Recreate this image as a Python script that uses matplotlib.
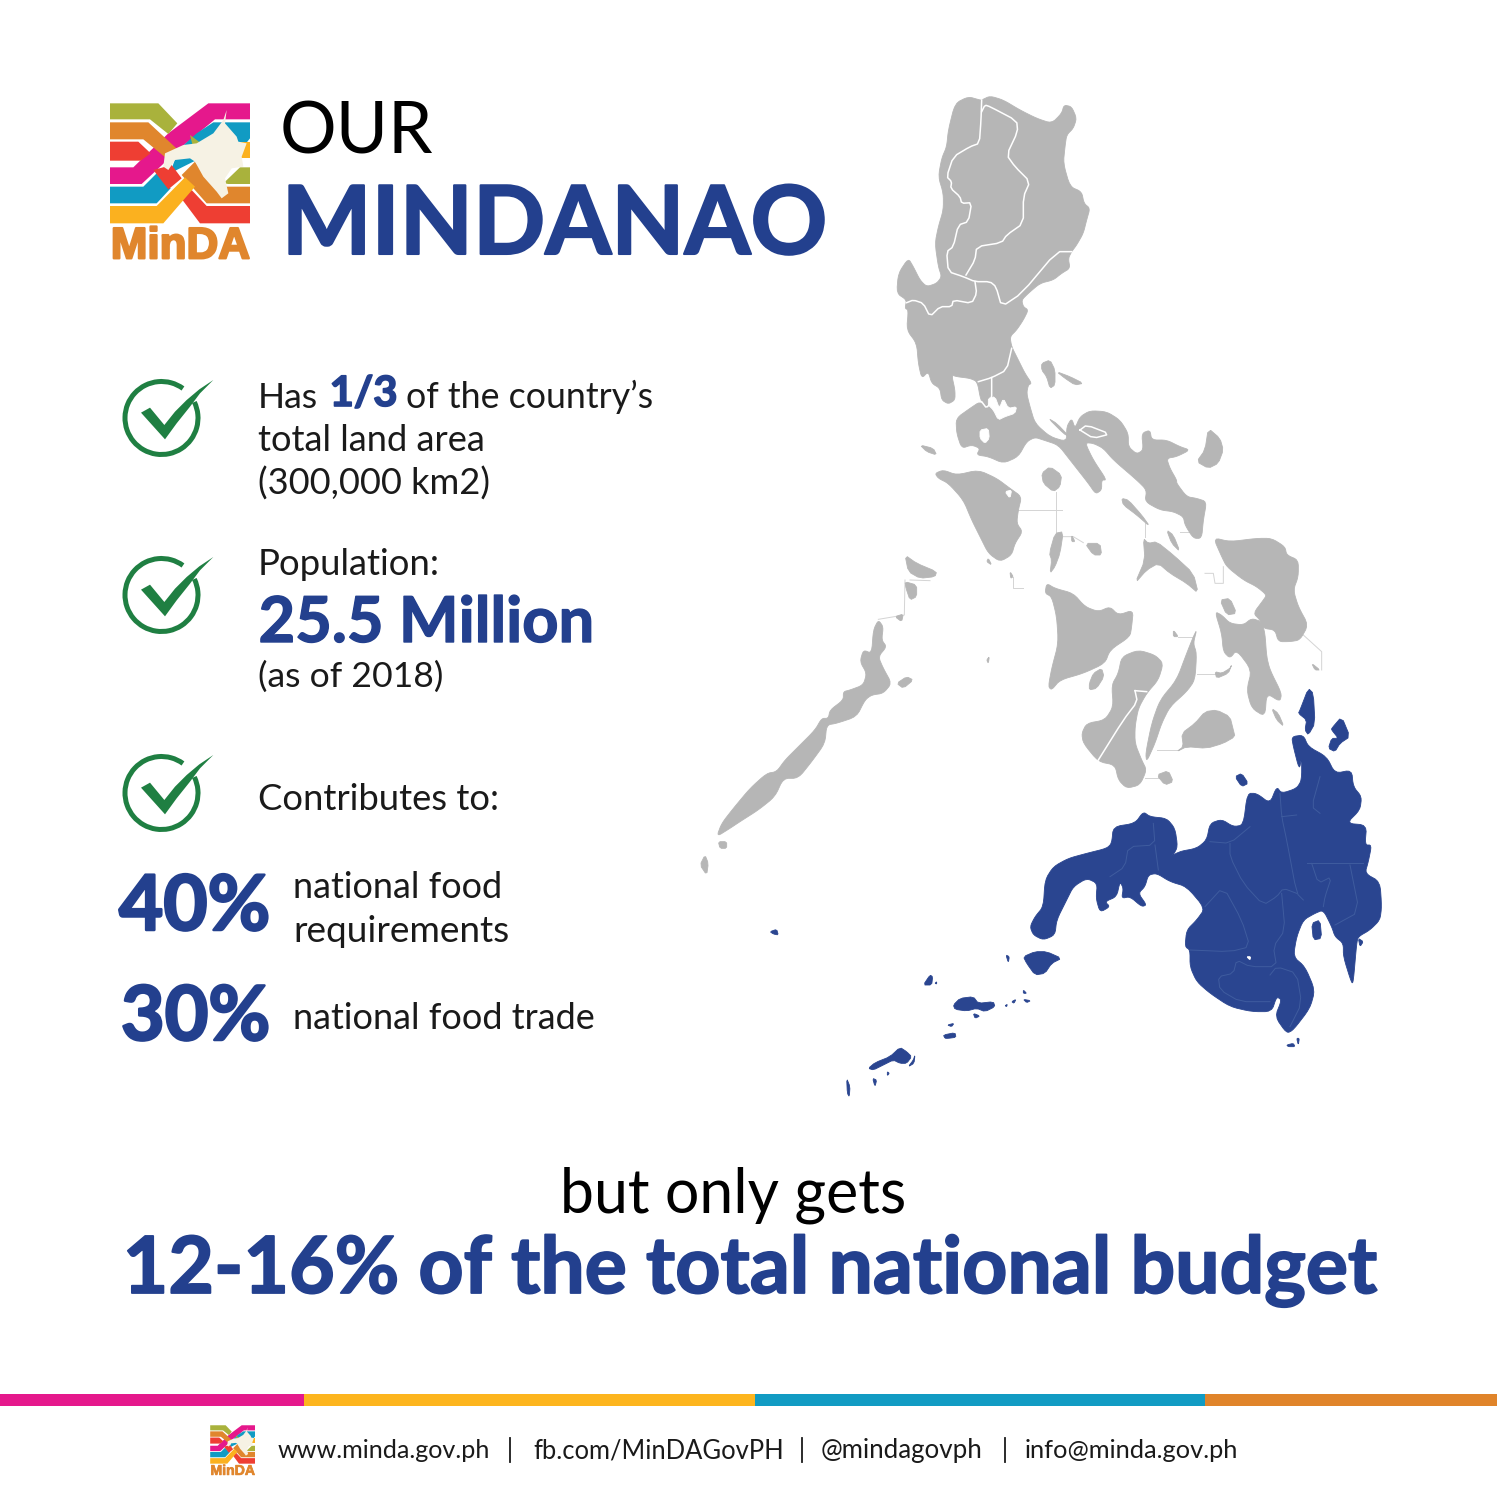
import matplotlib
matplotlib.use("Agg")
import matplotlib.pyplot as plt
import matplotlib.patheffects as pe
from matplotlib.patches import Polygon, Arc

W = 1497
NAVY = "#23408e"; MAP_BLUE = "#2a4590"; GREY = "#b6b6b6"; GREEN = "#1f7f42"; ORANGE = "#e0862d"
FONT = "Lato"
BAR_SEGMENTS = [(0, 304, "#e5188c"), (304, 755, "#fdb51e"), (755, 1205, "#119bc3"), (1205, 1497, "#e0842a")]

# (text, left x, right x, baseline y, weight, colour, extra stroke)
TEXTS = [
    ("OUR", 280, 433, 153, "normal", "black", 0),
    ("MINDANAO", 281, 828, 254, "bold", NAVY, 1.5),
    ("Has", 258, 318, 408, "normal", "#1a1a1a", 0),
    ("1/3", 329, 398, 406, "bold", NAVY, 1.2),
    ("of the country’s", 406, 653, 408, "normal", "#1a1a1a", 0),
    ("total land area", 258, 485, 451, "normal", "#1a1a1a", 0),
    ("(300,000 km2)", 258, 490, 495, "normal", "#1a1a1a", 0),
    ("Population:", 258, 440, 575, "normal", "#1a1a1a", 0),
    ("25.5 Million", 258, 594, 642, "bold", NAVY, 1.0),
    ("(as of 2018)", 258, 443, 687, "normal", "#1a1a1a", 0),
    ("Contributes to:", 258, 499, 810, "normal", "#1a1a1a", 0),
    ("40%", 118, 271, 930, "bold", NAVY, 1.8),
    ("national food", 293, 502, 898, "normal", "#1a1a1a", 0),
    ("requirements", 293, 509, 942, "normal", "#1a1a1a", 0),
    ("30%", 120, 271, 1040, "bold", NAVY, 1.8),
    ("national food trade", 293, 595, 1029, "normal", "#1a1a1a", 0),
    ("but only gets", 560, 906, 1213, "normal", "black", 0),
    ("12-16% of the total national budget", 122, 1376, 1293, "bold", NAVY, 1.3),
    ("www.minda.gov.ph", 278, 490, 1458, "normal", "#1a1a1a", 0),
    ("fb.com/MinDAGovPH", 533, 783, 1458, "normal", "#1a1a1a", 0),
    ("@mindagovph", 821, 982, 1458, "normal", "#1a1a1a", 0),
    ("info@minda.gov.ph", 1025, 1239, 1458, "normal", "#1a1a1a", 0),
]
SEPARATORS = [510, 802, 1005]
CHECK_CENTRES = [418, 595, 793]
TICK_SHAPE = [(93,128),(120,113),(163,165),(195,125),(230,90),(268,58),(310,30),(270,70),(240,110),(200,160),(165,208)]

def c2(p): return [(880 + x / 3, 80 + y / 3) for x, y in p]
def c3(p): return [(690 + x / 3, 460 + y / 3) for x, y in p]
def c4(p): return [(1030 + x / 3, 460 + y / 3) for x, y in p]
def c5(p): return [(1010 + x / 3, 680 + y / 3) for x, y in p]
def c6(p): return [(760 + x / 3, 910 + y / 3) for x, y in p]

LUZON = c2([(305,60),(330,48),(370,60),(420,90),(470,115),(515,130),(545,100),(552,75),(575,80),(590,115),(580,145),(560,165),(555,200),(550,250),(570,320),(605,335),(612,370),(630,385),(620,420),(610,460),(590,495),(575,515),(565,535),(570,565),(545,580),(520,600),(480,610),(445,640),(425,660),(430,680),(445,690),(430,720),(410,750),(390,770),(395,800),(415,840),(435,880),(455,910),(445,915),(440,940),(450,980),(465,1030),(510,1070),(560,1085),(560,1040),(575,1015),(585,1045),(600,1010),(630,992),(680,995),(720,1020),(745,1060),(745,1100),(770,1122),(790,1110),(785,1060),(810,1050),(815,1080),(860,1080),(900,1100),(930,1110),(890,1130),(860,1135),(870,1165),(890,1200)]) \
    + c4([(440,70),(470,110),(500,115),(530,125),(520,180),(515,235),(490,235),(465,195),(460,170),(430,155),(390,150),(345,125),(350,90),(320,60),(250,0)]) \
    + c2([(670,1105),(640,1090),(615,1088),(640,1140),(680,1200)]) \
    + c4([(215,60),(215,90),(197,102),(175,70),(120,0)]) \
    + c2([(535,1095),(490,1080),(465,1072),(440,1085),(415,1130),(370,1150),(325,1130),(290,1125),(300,1105),(275,1095),(245,1105),(230,1060),(228,1015),(270,985),(300,965),(318,985),(302,960),(292,905),(270,895),(230,890),(215,885),(225,930),(225,960),(205,972),(185,960),(180,925),(155,910),(145,875),(125,895),(115,850),(110,790),(80,750),(85,690),(75,685),(80,660),(50,640),(55,580),(85,535),(100,560),(120,600),(140,620),(170,610),(185,590),(175,560),(165,490),(175,440),(190,390),(190,340),(175,290),(185,235),(200,200),(205,150),(225,70),(265,50),(300,60)])

GREY_ISLANDS = [
    c2([(485,850),(510,840),(525,870),(525,915),(510,925),(500,890),(485,870)]),
    c2([(505,1015),(530,1030),(570,1072),(550,1060)]),
    c2([(530,875),(570,890),(610,910),(585,915),(555,895)]),
    c2([(985,1045),(1020,1075),(1030,1110),(1015,1150),(985,1165),(950,1145),(975,1110)]),
    c2([(120,1095),(160,1105),(170,1125),(140,1115)]),
    c3([(735,40),(760,30),(800,45),(865,30),(920,55),(960,85),(995,110),(985,150),(980,190),(998,215),(975,250),(965,285),(930,305),(895,280),(870,230),(845,180),(820,120),(775,70),(745,55)]),
    c3([(1055,40),(1080,20),(1115,45),(1110,80),(1090,95),(1060,70)]),
    c3([(1095,220),(1120,215),(1110,280),(1095,320),(1080,340),(1085,300),(1078,280)]),
    c3([(895,295),(905,315),(890,305)]), c3([(960,335),(970,350),(962,355)]),
    c4([(165,250),(210,250),(215,285),(190,285)]),
    c4([(125,225),(135,245),(125,245)]),
    c4([(45,400),(50,370),(75,385),(130,400),(165,440),(205,455),(240,440),(265,465),(310,450),(305,500),(300,530),(240,570),(225,610),(160,640),(90,660),(65,690),(55,680),(65,625),(85,550),(80,470),(65,410)]),
    c4([(190,640),(215,625),(222,650),(200,685),(178,690),(178,670)]),
    c4([(275,590),(325,570),(375,585),(400,610),(385,660),(350,700),(325,745),(315,800),(315,850),(335,900),(350,930),(330,975),(290,985),(265,960),(255,915),(205,905),(160,850),(155,820),(170,790),(225,780),(250,740),(245,675),(265,640)]),
    c4([(380,945),(415,932),(430,965),(405,975)]),
    c4([(500,510),(490,550),(500,580),(495,660),(470,695),(420,740),(395,790),(375,850),(350,905),(347,880),(365,790),(390,720),(440,660),(470,580),(490,530)]),
    c4([(455,820),(495,790),(525,755),(560,750),(600,770),(610,810),(615,830),(580,850),(530,865),(470,860),(440,875),(460,860)]),
    c4([(340,235),(355,250),(380,245),(430,285),(490,340),(505,400),(470,370),(420,340),(385,310),(350,330),(315,370),(345,300)]),
    c4([(410,210),(430,225),(450,275),(425,250)]),
    c4([(275,115),(295,120),(335,165),(360,200),(320,165),(280,135)]),
    c4([(550,233),(600,245),(680,235),(725,235),(765,260),(770,285),(805,300),(805,350),(790,390),(805,440),(835,495),(810,540),(780,545),(745,545),(735,510),(700,505),(690,480),(670,460),(700,420),(710,405),(680,380),(640,360),(590,320),(575,290)]),
    c4([(555,455),(575,465),(600,490),(640,495),(665,475),(695,485),(705,520),(710,590),(720,630),(755,700),(750,725),(710,700),(705,770),(665,745),(650,690),(665,630),(620,570),(600,595),(580,575),(575,520)]),
    c4([(570,420),(600,415),(620,460),(590,465)]),
    c4([(725,745),(745,760),(762,800),(740,780)]),
    c4([(555,635),(575,640),(600,625),(605,615),(595,640),(560,655)]),
    c4([(845,610),(870,630),(855,630)]), c4([(430,510),(445,530),(430,530)]),
    c3([(80,1130),(95,1090),(130,1045),(180,985),(230,940),(260,935),(285,900),(325,860),(375,810),(395,775),(415,775),(420,750),(460,720),(460,695),(480,690),(520,675),(530,640),(510,605),(520,570),(545,580),(550,510),(565,480),(580,500),(575,540),(590,560),(565,590),(580,625),(605,670),(580,700),(545,705),(525,720),(500,770),(440,790),(410,795),(405,850),(365,905),(325,955),(280,955),(255,1010),(205,1050),(150,1085),(120,1105)]),
    c3([(30,1215),(45,1185),(55,1210),(50,1245)]),
    c3([(85,1145),(110,1145),(110,1165),(90,1165)]),
    c3([(645,285),(680,310),(740,335),(735,350),(690,355),(655,335)]),
    c3([(645,365),(680,375),(680,410),(660,420),(648,385)]),
    c3([(620,670),(650,650),(670,660),(640,685)]),
    c3([(890,600),(898,590),(895,610)]),
    c3([(615,470),(640,462),(635,485)]),
]
LAKES = [
    c2([(325,955),(345,950),(358,985),(370,955),(385,985),(410,980),(405,1000),(375,1010),(355,1020),(340,990),(325,975)]),
    c2([(300,1050),(325,1045),(328,1075),(315,1090),(300,1075)]),
    c3([(945,95),(965,90),(960,115)]),
]
GREY_BORDERS = [
    c2([(305,60),(303,120),(298,190),(270,200),(220,230),(200,290),(215,305),(212,325),(240,350),(245,370),(275,368),(265,425),(235,435),(220,500),(200,515),(205,575),(250,590),(285,605),(330,605),(348,620),(365,680),(425,640),(530,515),(575,515)]),
    c2([(305,95),(315,75),(330,80),(410,122),(413,155),(380,225),(405,260),(450,305),(430,350),(430,430),(380,465),(365,488),(290,500),(285,540),(258,585)]),
    c2([(285,605),(290,640),(275,670),(220,660),(215,680),(180,680),(150,710),(130,670),(100,660),(80,668)]),
    c2([(395,805),(380,870),(335,893),(295,905)]),
    c2([(335,893),(335,960),(320,985),(305,965)]),
    c2([(600,1050),(620,1035),(690,1062),(640,1075),(600,1050)]),
    c4([(315,692),(350,695)]),
    c4([(315,692),(322,725),(280,780),(205,900)]),
]
THIN_LINES = [
    c3([(645,360),(643,465),(565,478)]), c3([(660,360),(720,362)]),
    c3([(985,150),(1115,150)]), c3([(1098,95),(1098,215)]), c3([(970,350),(970,385),(1000,385)]),
    c4([(500,643),(555,643)]), c4([(380,870),(440,870)]), c4([(345,953),(390,953)]),
    c4([(445,532),(485,532)]), c4([(100,230),(130,230),(160,248)]),
    c4([(345,190),(345,230)]), c4([(450,215),(490,215)]),
    c4([(525,340),(550,340),(555,370),(580,370),(580,320)]),
    c4([(820,525),(875,575),(875,630)]),
]
MINDANAO = c5([(60,740),(75,710),(100,680),(105,600),(130,560),(175,535),(230,520),(290,505),(305,490),(310,440),(375,430),(400,395),(420,410),(470,415),(495,445),(503,500),(490,525),(460,545),(505,515),(560,505),(590,480),(600,430),(635,418),(670,440),(700,435),(712,340),(740,340),(780,370),(800,320),(815,340),(860,325),(875,300),(875,230),(868,270),(850,200),(845,170),(880,165),(895,200),(950,230),(975,280),(1025,270),(1030,320),(1055,350),(1050,390),(1010,430),(1070,435),(1065,495),(1085,495),(1075,545),(1065,580),(1110,605),(1115,680),(1110,720),(1080,750),(1045,770),(1040,790),(1030,905),(1025,910),(1000,830),(1000,790),(975,770),(965,740),(940,690),(915,700),(880,720),(860,770),(850,830),(885,860),(915,930),(900,985),(850,1050),(830,1060),(795,1010),(815,960),(800,950),(785,995),(725,995),(660,980),(600,940),(560,905),(540,860),(540,810),(525,800),(530,750),(560,720),(585,685),(530,620),(480,605),(440,580),(415,585),(405,620),(385,640),(410,675),(395,680),(360,650),(335,655),(340,625),(330,605),(320,650),(285,665),(300,680),(270,697),(258,655),(262,610),(230,595),(190,620),(170,660),(140,720),(135,765),(100,780),(70,765)])
BLUE_ISLANDS = [
    c5([(905,730),(930,720),(935,775),(910,780)]), c5([(1045,775),(1060,785),(1050,800)]),
    c5([(675,290),(695,280),(715,310),(695,320)]),
    c5([(870,90),(895,25),(910,40),(915,130),(895,165),(885,150),(890,120),(865,100)]),
    c5([(965,145),(995,110),(1020,170),(990,190),(975,215),(955,205),(965,175),(985,175),(965,150)]),
    c5([(830,1095),(850,1090),(855,1100),(835,1100)]), c5([(860,1075),(868,1075),(865,1095)]),
    c5([(40,830),(75,815),(110,815),(155,835),(125,850),(105,880),(75,885),(50,850)]),
    c6([(30,65),(50,58),(55,75),(40,72)]),
    c6([(580,285),(600,265),(640,260),(655,280),(700,275),(705,290),(675,305),(650,295),(620,303),(585,298)]),
    c6([(640,310),(660,318),(645,325)]), c6([(562,345),(582,340),(575,350)]),
    c6([(550,375),(585,368),(588,382),(565,385),(555,385)]),
    c6([(325,475),(345,458),(390,440),(420,412),(440,425),(455,440),(440,460),(420,460),(400,450),(370,465),(340,480)]),
    c6([(445,470),(460,450),(465,435),(462,460)]), c6([(260,505),(270,530),(268,560),(262,550)]),
    c6([(338,505),(350,510),(345,530)]), c6([(382,485),(388,490),(382,497)]),
    c6([(490,225),(510,195),(518,200),(515,225)]), c6([(525,220),(530,215),(530,222)]),
    c6([(738,135),(748,140),(745,158)]), c6([(790,240),(800,250),(790,250)]),
    c6([(755,275),(768,268),(762,280)]), c6([(735,287),(742,283),(740,290)]),
    c6([(790,268),(812,272),(800,278)]),
]
BLUE_BORDERS = [
    c5([(430,430),(435,495),(355,500),(345,560),(300,590)]), c5([(435,495),(445,570)]),
    c5([(810,340),(815,410),(830,480),(860,640),(880,660)]), c5([(815,410),(860,405)]),
    c5([(600,485),(660,490),(720,440)]),
    c5([(660,490),(660,530),(700,610),(760,675),(800,650),(820,625),(860,640)]),
    c5([(890,550),(990,550),(1060,550)]),
    c5([(905,550),(925,610),(965,590),(945,650),(940,680)]),
    c5([(1020,555),(1048,695),(975,735)]),
    c5([(815,640),(825,750),(790,800),(800,860),(720,860),(680,840),(670,880),(625,890),(630,930),(690,965),(780,965)]),
    c5([(540,810),(660,815),(720,800),(695,720),(640,620),(585,680)]),
    c5([(780,885),(800,860),(860,880),(875,970),(840,1040)]),
    c5([(930,290),(905,380),(930,400)]),
]
BLUE_HOLES = [c5([(710,830),(722,830),(720,840)])]

LOGO_SHAPES = [
    ("#e5188c", [(450,40),(325,40),(205,130),(100,232),(30,232),(30,282),(125,282),(240,175),(345,88),(450,88)]),
    ("#a9b23c", [(30,40),(175,40),(232,100),(205,132),(150,88),(30,88)]),
    ("#119bc3", [(340,97),(450,97),(450,145),(430,170),(280,215),(210,250),(235,180),(290,130)]),
    ("#a9b23c", [(270,135),(310,165),(280,175)]),
    ("#e0862d", [(30,97),(145,97),(240,185),(208,212),(130,148),(30,148)]),
    ("#ee3e33", [(30,155),(115,155),(152,190),(122,212),(30,212)]),
    ("#119bc3", [(30,290),(130,290),(170,250),(212,295),(170,340),(30,340)]),
    ("#ee3e33", [(160,240),(215,225),(245,265),(205,298)]),
    ("#ee3e33", [(240,320),(275,300),(320,348),(450,348),(450,400),(300,400)]),
    ("#e0862d", [(245,255),(285,215),(345,290),(450,290),(450,340),(320,340)]),
    ("#fbb11f", [(30,348),(170,348),(255,262),(285,290),(190,400),(30,400)]),
    ("#fbb11f", [(410,155),(450,155),(450,205),(420,205)]),
    ("#a9b23c", [(370,280),(420,232),(450,232),(450,282),(385,282)]),
    ("#f6f2e4", [(380,60),(370,90),(340,130),(290,160),(250,165),(195,190),(190,230),(205,240),(225,210),(270,205),(285,215),(310,260),(350,305),(365,325),(385,310),(375,265),(395,235),(430,230),(425,200),(440,160),(415,155),(410,140),(375,100)]),
]

fig = plt.figure(figsize=(14.97, 14.97), dpi=100, facecolor="white")
ax = fig.add_axes([0, 0, 1, 1])
ax.set_xlim(0, W); ax.set_ylim(W, 0); ax.axis("off")
renderer = fig.canvas.get_renderer()

def chaikin(p, closed=True, n=1):
    p = list(p)
    for _ in range(n):
        q = []
        m = len(p) if closed else len(p) - 1
        if not closed: q.append(p[0])
        for i in range(m):
            a, b = p[i], p[(i + 1) % len(p)]
            q.append((0.8 * a[0] + 0.2 * b[0], 0.8 * a[1] + 0.2 * b[1]))
            q.append((0.2 * a[0] + 0.8 * b[0], 0.2 * a[1] + 0.8 * b[1]))
        if not closed: q.append(p[-1])
        p = q
    return p

def place(txt, x0, x1, base, weight, color, stroke=0, family=FONT, z=6):
    t = ax.text(x0, base, txt, family=family, weight=weight, color=color, fontsize=30,
                ha="left", va="baseline", zorder=z)
    bb = t.get_window_extent(renderer)
    t.set_fontsize(30 * (x1 - x0 - stroke) / bb.width)
    bb = t.get_window_extent(renderer)
    t.set_x(x0 + stroke / 2 - (bb.x0 - ax.transData.transform((x0, base))[0]))
    if stroke:
        t.set_path_effects([pe.withStroke(linewidth=stroke, foreground=color)])
    return t

def logo(x0, y0, s):
    f = lambda p: [(x0 + x * s / 3, y0 + y * s / 3) for x, y in p]
    for col, pts in LOGO_SHAPES:
        ax.add_patch(Polygon(f(pts), closed=True, fc=col, ec="none", zorder=3))
    place("MinDA", x0 + 30 * s / 3, x0 + 452 * s / 3, y0 + 505 * s / 3, "bold", ORANGE, stroke=1.6 * s,
          family="Liberation Sans", z=3)

logo(100, 90, 1.0)
logo(207, 1421, 0.32)

def fill(poly, fc, z=2):
    ax.add_patch(Polygon(chaikin(poly, n=2 if len(poly) > 12 else 1), closed=True, fc=fc, ec=fc, lw=0.6, joinstyle="round", zorder=z))

fill(LUZON, GREY)
for p in GREY_ISLANDS: fill(p, GREY)
for p in LAKES: fill(p, "white", 2.5)
for p in THIN_LINES:
    ax.plot(*zip(*p), color="#d4d4d4", lw=0.7, zorder=1)
for p in GREY_BORDERS:
    ax.plot(*zip(*chaikin(p, closed=False)), color="white", lw=1.1, zorder=3)
fill(MINDANAO, MAP_BLUE)
for p in BLUE_ISLANDS: fill(p, MAP_BLUE)
for p in BLUE_HOLES: fill(p, "white", 2.5)
for p in BLUE_BORDERS:
    ax.plot(*zip(*chaikin(p, closed=False)), color="#3f5c9f", lw=0.7, zorder=3)

for cy in CHECK_CENTRES:
    ax.add_patch(Arc((161.5, cy), 73, 73, theta1=-26, theta2=306, color=GREEN, lw=3.6, zorder=4))
    tick = [(110 + x / 3, cy - 48 + y / 3) for x, y in TICK_SHAPE]
    ax.add_patch(Polygon(tick, closed=True, fc=GREEN, ec="none", zorder=5))

for row in TEXTS:
    place(*row)

for x in SEPARATORS:
    ax.plot([x, x], [1438, 1462], color="#1a1a1a", lw=1.3, zorder=5)

for x0, x1, col in BAR_SEGMENTS:
    ax.fill_between([x0, x1], 1394, 1406, color=col, lw=0, zorder=5)

fig.savefig("out.png", dpi=100, facecolor="white")
